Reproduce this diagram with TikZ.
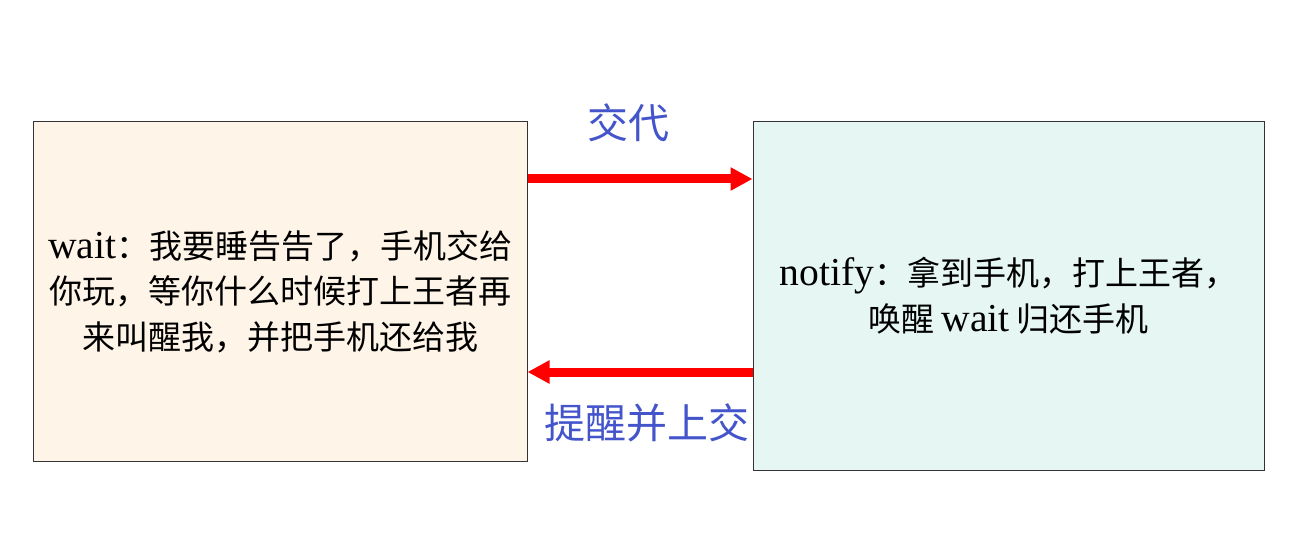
\documentclass[tikz,border=0pt]{standalone}
\usepackage{fontspec}
\newfontfamily\cjk{Noto Sans CJK SC}
\newfontfamily\lat[Scale=1.2]{Liberation Serif}
\usetikzlibrary{arrows.meta}
\definecolor{leftfill}{HTML}{FEF4E8}
\definecolor{rightfill}{HTML}{E6F6F2}
\definecolor{lblue}{HTML}{4455CC}
\definecolor{edge}{HTML}{333333}
\tikzset{
  box/.style={draw=edge, line width=1pt, inner sep=0pt, align=center,
    font=\cjk\fontsize{33}{45.6}\selectfont},
  arr/.style={draw=red, line width=9pt, -{Triangle[length=22pt,width=22pt]}},
  lbl/.style={text=lblue, inner sep=0pt, font=\cjk\fontsize{41}{48}\selectfont}
}
\begin{document}
\begin{tikzpicture}[x=1pt,y=-1pt]
\useasboundingbox[fill=white] (0,0) rectangle (1301,556);
\node[box, fill=leftfill, minimum width=493.5pt, minimum height=339pt] (L) at (280.25,291.5)
  {{\lat wait}：我要睡告告了，手机交给\\你玩，等你什么时候打上王者再\\来叫醒我，并把手机还给我};
\node[box, fill=rightfill, minimum width=511pt, minimum height=348.5pt] (R) at (1008.5,295.75)
  {{\lat notify}：拿到手机，打上王者，\\唤醒 {\lat wait} 归还手机};
\coordinate (yt) at (0,179);
\coordinate (yb) at (0,372);
\draw[arr] (L.east |- yt) -- (R.west |- yt);
\draw[arr] (R.west |- yb) -- (L.east |- yb);
\node[lbl] (t1) at (628,123) {交代};
\node[lbl] (t2) at (647,423) {提醒并上交};
\end{tikzpicture}
\end{document}
